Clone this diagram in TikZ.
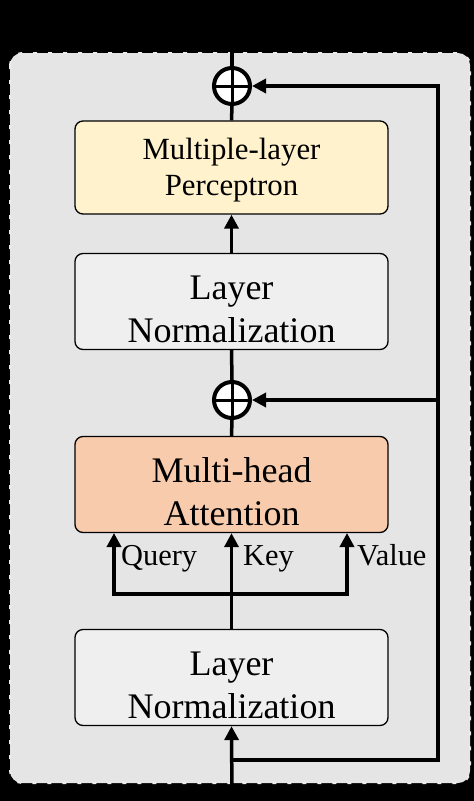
\documentclass[tikz,border=0pt]{standalone}
\usepackage{fontspec}
\setmainfont{Liberation Serif}
\definecolor{panelColor}{HTML}{E6E5E6}
\definecolor{normColor}{HTML}{EFEFEF}
\definecolor{mlpColor}{HTML}{FFF2CC}
\definecolor{attnColor}{HTML}{F8CBAD}
\usetikzlibrary{arrows.meta, positioning, calc}
\tikzset{
    blockNode/.style = {rectangle, rounded corners=8pt, draw=black, line width=1.3pt, fill=normColor, text centered, align=center, inner ysep=0pt, minimum width=313pt, minimum height=96pt, font=\fontsize{36}{43}\selectfont, text height=82pt, text depth=0pt},
    normNode/.style = {blockNode},
    mlpNode/.style = {blockNode, fill=mlpColor, minimum height=93pt, font=\fontsize{30.8}{36}\selectfont, text height=56pt},
    attnNode/.style = {blockNode, fill=attnColor},
    addNode/.style = {circle, draw=black, line width=4pt, fill=white, minimum size=36pt, inner sep=0pt,
        path picture={\draw[line width=3pt] (path picture bounding box.north) -- (path picture bounding box.south) (path picture bounding box.west) -- (path picture bounding box.east);}},
    labelNode/.style = {anchor=base west, inner sep=0pt, font=\fontsize{30.4}{36}\selectfont},
    plainPath/.style = {line width=3.5pt, draw},
    flowPath/.style = {plainPath, -{Triangle[length=14pt, width=14pt]}}
}
\begin{document}
\begin{tikzpicture}[x=1pt, y=-1pt]
            \fill[black] (0,0) rectangle (474,801);
            \useasboundingbox (0,0) rectangle (474,801);
            \draw[fill=panelColor, draw=white!85!gray, line width=2pt, dash pattern=on 4pt off 11pt, rounded corners=12pt] (10,53) rectangle (470,783);
            % blocks
            \node(mlp)[mlpNode] at (231.5,167.5){Multiple-layer\\Perceptron};
            \node(normTop)[normNode] at (231.5,301.5){Layer\\Normalization};
            \node(attn)[attnNode] at (231.5,484.5){Multi-head\\Attention};
            \node(normIn)[normNode] at (231.5,677.5){Layer\\Normalization};
            \node(addMlp)[addNode] at (232,86){};
            \node(addAttn)[addNode] at (232,400){};
            % free ends and corners
            \coordinate(out) at (232,0);
            \coordinate(in) at (232,801);
            \coordinate(resStart) at (232,760);
            \coordinate(resCorner) at (438,760);
            \coordinate(split) at (232,594);
            \coordinate(queryIn) at (114,533);
            \coordinate(valueIn) at (347,533);
            % main flow
            \path[flowPath] (in) to (normIn.south);
            \path[flowPath] (normIn.north) to (attn.south);
            \path[plainPath] (attn.north) to (addAttn.south);
            \path[plainPath] (addAttn.north) to (normTop.south);
            \path[flowPath] (normTop.north) to (mlp.south);
            \path[plainPath] (mlp.north) to (addMlp.south);
            \path[plainPath] (addMlp.north) to (out);
            % query and value
            \path[flowPath] (split) -| (queryIn);
            \path[flowPath] (split) -| (valueIn);
            \node(query)[labelNode] at (121,565){Query};
            \node(key)[labelNode] at (243,565){Key};
            \node(value)[labelNode] at (357,565){Value};
            % residual connections
            \path[flowPath] (resStart) -- (resCorner) |- (addAttn.east);
            \path[flowPath] (resCorner) |- (addMlp.east);
        \end{tikzpicture}
\end{document}
